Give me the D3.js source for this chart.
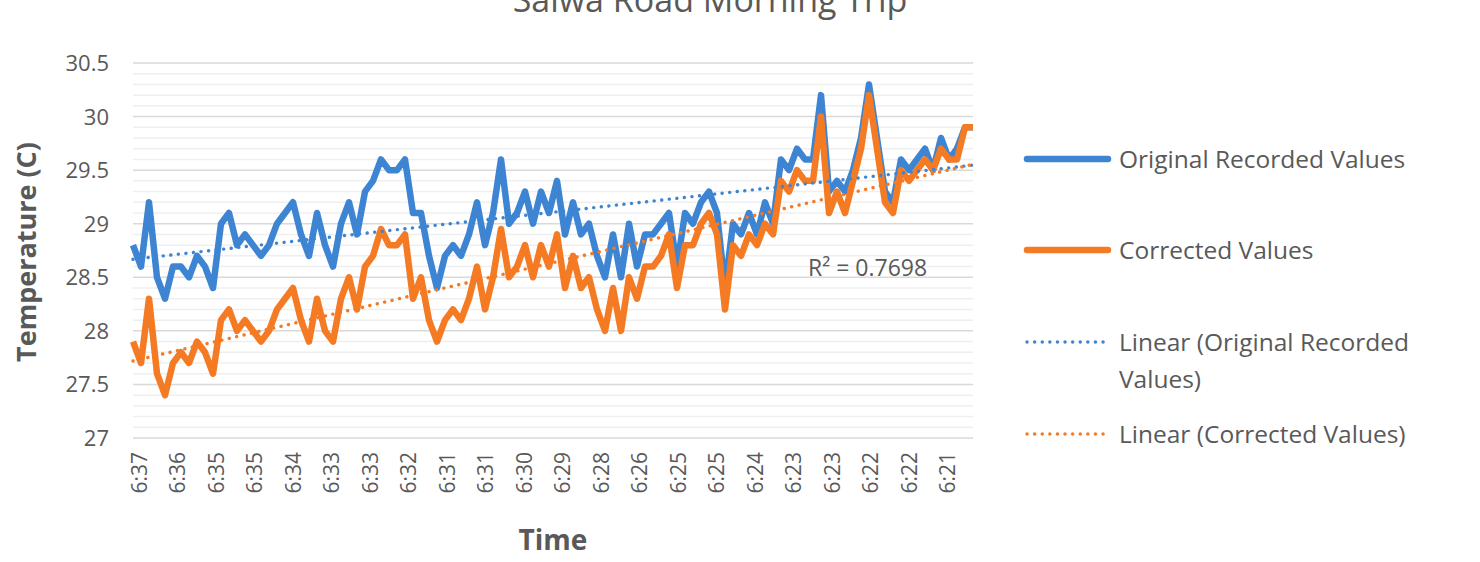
<!DOCTYPE html>
<html><head><meta charset="utf-8">
<script src="https://cdn.jsdelivr.net/npm/d3@7"></script>
<style>body{margin:0;background:#fff}text{font-family:"Open Sans",sans-serif}</style>
</head><body>
<svg id="c" width="1480" height="562"></svg>
<script>
const original = [28.8,28.6,29.2,28.5,28.3,28.6,28.6,28.5,28.7,28.6,28.4,29.0,29.1,28.8,28.9,28.8,28.7,28.8,29.0,29.1,29.2,28.9,28.7,29.1,28.8,28.6,29.0,29.2,28.9,29.3,29.4,29.6,29.5,29.5,29.6,29.1,29.1,28.7,28.4,28.7,28.8,28.7,28.9,29.2,28.8,29.1,29.6,29.0,29.1,29.3,29.0,29.3,29.1,29.4,28.9,29.2,28.9,29.0,28.7,28.5,28.9,28.5,29.0,28.6,28.9,28.9,29.0,29.1,28.6,29.1,29.0,29.2,29.3,29.1,28.4,29.0,28.9,29.1,28.9,29.2,29.0,29.6,29.5,29.7,29.6,29.6,30.2,29.3,29.4,29.3,29.5,29.8,30.3,29.8,29.3,29.2,29.6,29.5,29.6,29.7,29.5,29.8,29.6,29.7,29.9,29.9];
const corrected = [27.9,27.7,28.3,27.6,27.4,27.7,27.8,27.7,27.9,27.8,27.6,28.1,28.2,28.0,28.1,28.0,27.9,28.0,28.2,28.3,28.4,28.1,27.9,28.3,28.0,27.9,28.3,28.5,28.2,28.6,28.7,28.95,28.8,28.8,28.9,28.3,28.5,28.1,27.9,28.1,28.2,28.1,28.3,28.6,28.2,28.5,28.95,28.5,28.6,28.8,28.5,28.8,28.6,28.9,28.4,28.7,28.4,28.5,28.2,28.0,28.4,28.0,28.5,28.3,28.6,28.6,28.7,28.9,28.4,28.8,28.8,29.0,29.1,28.9,28.2,28.8,28.7,28.9,28.8,29.0,28.9,29.4,29.3,29.5,29.4,29.4,30.0,29.1,29.3,29.1,29.4,29.7,30.2,29.7,29.2,29.1,29.5,29.4,29.5,29.6,29.5,29.7,29.6,29.6,29.9,29.9];
const timeLabels = ["6:37","6:36","6:35","6:35","6:34","6:33","6:33","6:32","6:31","6:31","6:30","6:29","6:28","6:26","6:25","6:25","6:24","6:23","6:23","6:22","6:22","6:21"];
const yTicks = [27,27.5,28,28.5,29,29.5,30,30.5];
const rSquared = "R² = 0.7698";

const svg = d3.select("#c");
const L=133,R=973,T=63,B=438;
const x = d3.scaleLinear().domain([0, original.length-1]).range([L,R]);
const y = d3.scaleLinear().domain([27,30.5]).range([B,T]);
const grey="#595959";

d3.range(270,306).map(v=>v/10).forEach(v=>{
  const major = Math.abs(v*2-Math.round(v*2))<1e-6;
  svg.append("line").attr("x1",L).attr("x2",R).attr("y1",y(v)).attr("y2",y(v))
    .attr("stroke",major?"#d9d9d9":"#efefef").attr("stroke-width",1.5);
});
svg.selectAll(".yt").data(yTicks).enter().append("text")
  .attr("x",L-24).attr("y",d=>y(d)+8).attr("text-anchor","end")
  .attr("font-size",22).attr("fill",grey).text(d=>d);

const step=101/(timeLabels.length-1);
timeLabels.forEach((t,k)=>{
  const px=x(0.75+k*step);
  svg.append("text").attr("transform",`translate(${px+8},${B+14}) rotate(-90)`)
    .attr("text-anchor","end").attr("font-size",21).attr("fill",grey).text(t);
});

function fit(a){const n=a.length,xs=d3.range(n),mx=d3.mean(xs),my=d3.mean(a);
  let sxy=0,sxx=0;xs.forEach(i=>{sxy+=(i-mx)*(a[i]-my);sxx+=(i-mx)**2});
  const b=sxy/sxx;return [my-b*mx,b];}
const line=d3.line().x((d,i)=>x(i)).y(d=>y(d));
const series=[[original,"#3d85d2"],[corrected,"#f57a24"]];
series.forEach(([a,c])=>{
  svg.append("path").attr("d",line(a)).attr("fill","none").attr("stroke",c)
    .attr("stroke-width",6.5).attr("stroke-linejoin","round");
});
series.forEach(([a,c])=>{
  const [a0,b]=fit(a),n=a.length-1;
  svg.append("line").attr("x1",x(0)).attr("x2",x(n)).attr("y1",y(a0)).attr("y2",y(a0+b*n))
    .attr("stroke",c).attr("stroke-width",3.4).attr("stroke-dasharray","0.1,7.5").attr("stroke-linecap","round");
});
svg.append("text").attr("x",808).attr("y",276).attr("font-size",23).attr("fill",grey).text(rSquared);

svg.append("text").attr("x",710).attr("y",12).attr("text-anchor","middle").attr("font-size",34).attr("fill",grey).text("Salwa Road Morning Trip");
svg.append("text").attr("transform","translate(36,252) rotate(-90)").attr("text-anchor","middle")
  .attr("font-size",27).attr("font-weight","bold").attr("fill",grey).text("Temperature (C)");
svg.append("text").attr("x",553).attr("y",550).attr("text-anchor","middle")
  .attr("font-size",28).attr("font-weight","bold").attr("fill",grey).text("Time");

const leg=[["Original Recorded Values",null,"#3d85d2",false,159],["Corrected Values",null,"#f57a24",false,250],
 ["Linear (Original Recorded","Values)","#3d85d2",true,342],["Linear (Corrected Values)",null,"#f57a24",true,434]];
leg.forEach(([t1,t2,c,dot,ly])=>{
  const l=svg.append("line").attr("x1",1027).attr("x2",1108).attr("y1",ly).attr("y2",ly).attr("stroke",c);
  if(dot) l.attr("stroke-width",3.4).attr("stroke-dasharray","0.1,7.5").attr("stroke-linecap","round");
  else l.attr("stroke-width",6.5).attr("stroke-linecap","round");
  svg.append("text").attr("x",1119).attr("y",ly+9).attr("font-size",24.5).attr("fill",grey).text(t1);
  if(t2) svg.append("text").attr("x",1119).attr("y",ly+46).attr("font-size",24.5).attr("fill",grey).text(t2);
});
</script></body></html>
